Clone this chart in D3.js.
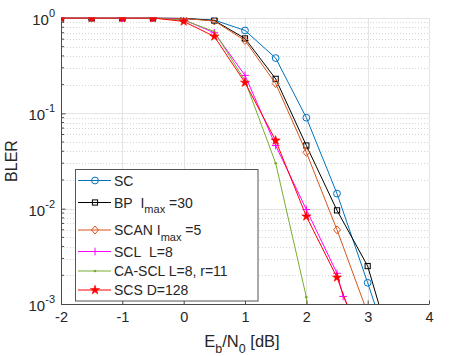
<!DOCTYPE html>
<html><head><meta charset="utf-8">
<script src="https://cdn.jsdelivr.net/npm/d3@7"></script>
<style>body{margin:0;background:#fff}svg{display:block;font-family:"Liberation Sans",Arial,sans-serif}</style>
</head><body><svg id="c" width="474" height="356"></svg>
<script>
// ---- data ----
const xTicks = [-2,-1,0,1,2,3,4];
const yTickExps = [0,-1,-2,-3];
const ebn0 = [-2,-1.5,-1,-0.5,0,0.5,1,1.5,2,2.5,3,3.5];
const ebn0SCL = [-2,-1.5,-1,-0.5,0,0.5,1,1.5,2,2.5,2.6,2.7];
const blerSC     = [1,1,1,1,0.99,0.95,0.74,0.38,0.09,0.0144,0.00167,0.00018];
const blerBP     = [1,1,1,1,0.99,0.94,0.61,0.23,0.046,0.0096,0.0025,0.0002];
const blerSCAN   = [1,1,1,1,0.99,0.93,0.58,0.205,0.039,0.006,0.0008];
const blerSCL    = [1,1,1,1,0.96,0.70,0.25,0.046,0.0098,0.0021,0.0012,0.0009];
const blerCASCL  = [1,1,1,1,0.95,0.72,0.22,0.03,0.00118,0.00001];
const blerSCS    = [1,1,1,1,0.92,0.64,0.21,0.052,0.0083,0.0019,0.00025];
const seriesNames = ["SC","BP","SCAN","SCL","CA-SCL","SCS"];

// ---- layout ----
const svg = d3.select("#c");
const L=61, R=429, T=18, B=304;
const x = d3.scaleLinear().domain([-2,4]).range([L,R]);
const y = d3.scaleLog().domain([1e-3,1]).range([B,T]);
const gridCol="#e3e3e3", axCol="#4a4a4a", txtCol="#262626";

svg.append("defs").append("clipPath").attr("id","clip")
  .append("rect").attr("x",L).attr("y",T-0.5).attr("width",R-L).attr("height",B-T+0.5);

// minor grid
const minors=[];
for(let e=-3;e<0;e++) for(let m=2;m<=9;m++) minors.push(m*Math.pow(10,e));
svg.append("g").selectAll("line").data(minors).join("line")
  .attr("x1",L).attr("x2",R).attr("y1",d=>Math.round(y(d))+0.5).attr("y2",d=>Math.round(y(d))+0.5)
  .attr("stroke","#d6d6d6").attr("stroke-dasharray","1,2");
// major grid
svg.append("g").selectAll("line").data(yTickExps).join("line")
  .attr("x1",L).attr("x2",R).attr("y1",d=>Math.round(y(Math.pow(10,d)))+0.5).attr("y2",d=>Math.round(y(Math.pow(10,d)))+0.5)
  .attr("stroke",gridCol);
svg.append("g").selectAll("line").data(xTicks).join("line")
  .attr("y1",T).attr("y2",B).attr("x1",d=>Math.round(x(d))+0.5).attr("x2",d=>Math.round(x(d))+0.5)
  .attr("stroke",gridCol);

// axes
const xAxis = svg.append("g").attr("transform",`translate(0,${B+0.5})`)
  .call(d3.axisBottom(x).tickValues(xTicks).tickSize(-4).tickFormat(d3.format("d")));
xAxis.select(".domain").attr("stroke",axCol).attr("d",`M${L},0H${R}`);
xAxis.selectAll(".tick line").attr("stroke",axCol);
xAxis.selectAll(".tick text").attr("fill",txtCol).attr("font-size",14.5).attr("y",17).attr("dy",0)
  .attr("font-family","Liberation Sans, Arial, sans-serif").text(d=>d<0?"-"+Math.abs(d):d);

const yAxis = svg.append("g").attr("transform",`translate(${L+0.5},0)`)
  .call(d3.axisLeft(y).tickValues(yTickExps.map(e=>Math.pow(10,e))).tickSize(-4).tickFormat(""));
yAxis.select(".domain").attr("stroke",axCol).attr("d",`M0,${T}V${B}`);
yAxis.selectAll(".tick line").attr("stroke",axCol);
svg.append("g").attr("transform",`translate(${L+0.5},0)`).selectAll("line").data(minors).join("line")
  .attr("x1",0).attr("x2",2.5).attr("y1",d=>y(d)).attr("y2",d=>y(d)).attr("stroke",axCol);

const yl = svg.append("g").selectAll("text").data(yTickExps).join("text")
  .attr("x",L-6).attr("y",d=>y(Math.pow(10,d))+7).attr("text-anchor","end")
  .attr("fill",txtCol).attr("font-size",15);
yl.append("tspan").text("10");
yl.append("tspan").attr("dy",-8).attr("font-size",11).text(d=>d===0?"0":"-"+Math.abs(d));

// axis labels
svg.append("text").attr("transform",`translate(16.5,${(T+B)/2}) rotate(-90)`)
  .attr("text-anchor","middle").attr("fill",txtCol).attr("font-size",16).text("BLER");
const xl = svg.append("text").attr("x",242).attr("y",347).attr("text-anchor","middle")
  .attr("fill",txtCol).attr("font-size",16.5);
xl.append("tspan").text("E");
xl.append("tspan").attr("dy",6).attr("font-size",12.5).text("b");
xl.append("tspan").attr("dy",-6).text("/N");
xl.append("tspan").attr("dy",6).attr("font-size",12.5).text("0");
xl.append("tspan").attr("dy",-6).text("\u00a0[dB]");

// markers
function marker(g,type,color){
  if(type==="circle") g.append("circle").attr("r",3.4).attr("fill","none").attr("stroke",color);
  else if(type==="square") g.append("rect").attr("x",-2.6).attr("y",-2.6).attr("width",5.2).attr("height",5.2).attr("fill","none").attr("stroke",color);
  else if(type==="diamond") g.append("path").attr("d","M0,-4L3.5,0L0,4L-3.5,0Z").attr("fill","none").attr("stroke",color);
  else if(type==="plus") g.append("path").attr("d","M-3.8,0H3.8M0,-3.8V3.8").attr("stroke",color);
  else if(type==="dot") g.append("circle").attr("r",1.3).attr("fill",color);
  else if(type==="star") g.append("path").attr("d",d3.symbol(d3.symbolStar,26)()).attr("fill",color).attr("stroke",color).attr("stroke-width",0.6);
}
const series = [
  {name:"SC", xs:ebn0, ys:blerSC, color:"#0072BD", m:"circle"},
  {name:"BP", xs:ebn0, ys:blerBP, color:"#000000", m:"square"},
  {name:"SCAN", xs:ebn0, ys:blerSCAN, color:"#D95319", m:"diamond"},
  {name:"SCL", xs:ebn0SCL, ys:blerSCL, color:"#FF00FF", m:"plus"},
  {name:"CA-SCL", xs:ebn0, ys:blerCASCL, color:"#77AC30", m:"dot"},
  {name:"SCS", xs:ebn0, ys:blerSCS, color:"#FF0000", m:"star"}
];
const plot = svg.append("g").attr("clip-path","url(#clip)");
const line = d3.line().x(d=>x(d[0])).y(d=>y(d[1]));
series.forEach(s=>{
  const pts = s.ys.map((v,i)=>[s.xs[i],v]);
  plot.append("path").attr("d",line(pts)).attr("fill","none").attr("stroke",s.color).attr("stroke-width",1);
  pts.forEach(p=>{ const g=plot.append("g").attr("transform",`translate(${x(p[0])},${y(p[1])})`); marker(g,s.m,s.color); });
});

// legend
const lg = svg.append("g");
lg.append("rect").attr("x",75.5).attr("y",169.5).attr("width",182.5).attr("height",131.5)
  .attr("fill","#fff").attr("stroke","#555");
const legY = [180.5,202.5,230,251.5,271,290];
series.forEach((s,i)=>{
  const cy=legY[i];
  lg.append("line").attr("x1",78).attr("x2",111).attr("y1",cy).attr("y2",cy).attr("stroke",s.color);
  marker(lg.append("g").attr("transform",`translate(95,${cy})`),s.m,s.color);
  const t = lg.append("text").attr("x",114).attr("y",cy+5).attr("fill",txtCol).attr("font-size",14);
  if(s.name==="SC") t.text("SC");
  else if(s.name==="BP"){ t.append("tspan").text("BP\u00a0\u00a0I"); t.append("tspan").attr("dy",5.5).attr("font-size",11).text("max"); t.append("tspan").attr("dy",-5.5).text("\u00a0=30"); }
  else if(s.name==="SCAN"){ t.append("tspan").text("SCAN I"); t.append("tspan").attr("dy",5.5).attr("font-size",11).text("max"); t.append("tspan").attr("dy",-5.5).text("\u00a0=5"); }
  else if(s.name==="SCL") t.text("SCL\u00a0\u00a0L=8");
  else if(s.name==="CA-SCL") t.text("CA-SCL L=8, r=11");
  else t.text("SCS D=128");
});
</script></body></html>
